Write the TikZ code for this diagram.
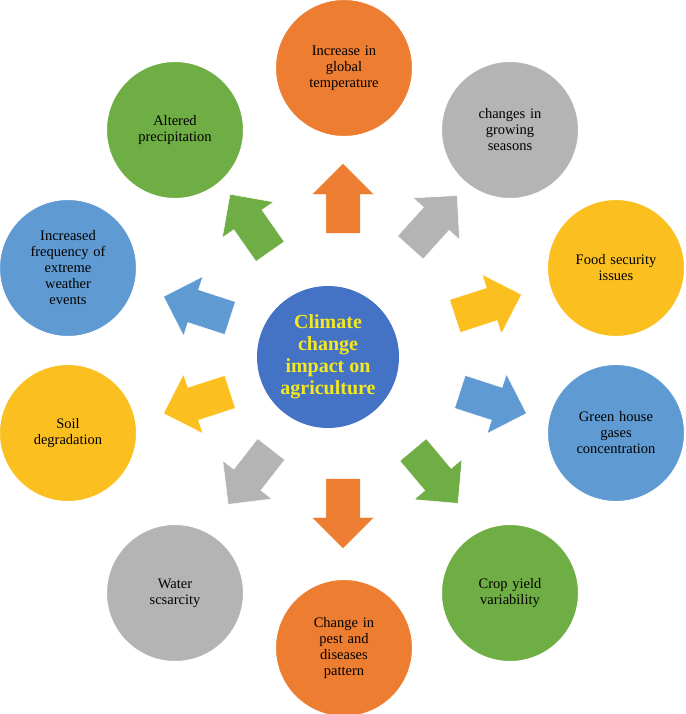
\documentclass[tikz,border=0pt]{standalone}
\usepackage{fontspec}
\setmainfont{Liberation Serif}
\usetikzlibrary{shapes.arrows}
\definecolor{cor}{HTML}{ED7D31}
\definecolor{cgr}{HTML}{B4B4B4}
\definecolor{cye}{HTML}{FBBF1F}
\definecolor{cbl}{HTML}{5F9BD2}
\definecolor{cgn}{HTML}{6FAE45}
\definecolor{cce}{HTML}{4472C4}
\definecolor{ctx}{HTML}{F5E81E}
\tikzset{
 outc/.style={circle,minimum size=137pt,inner sep=0pt,align=center,font=\fontsize{14.5}{16}\selectfont,text width=104pt,draw=white,line width=1pt},
 arr/.style={single arrow,minimum height=70pt,inner xsep=0pt,inner ysep=17pt,single arrow head extend=14pt,single arrow head indent=0pt,draw=white,line width=0.5pt}
}
\begin{document}
\begin{tikzpicture}[x=1pt,y=1pt]
\useasboundingbox (0,0) rectangle (685,714);
\node[circle,fill=cce,minimum size=142pt,inner sep=0pt,align=center,text=ctx,font=\bfseries\fontsize{20}{22}\selectfont] (c) at (328,357) {Climate\\change\\impact on\\agriculture};
\node[outc,fill=cor] (n1) at (344,646) {Increase in\\global\\temperature};
\node[outc,fill=cgr] (n2) at (510,584) {changes in\\growing\\seasons};
\node[outc,fill=cye] (n3) at (616,446) {Food security\\issues};
\node[outc,fill=cbl] (n4) at (616,281) {Green house\\gases\\concentration};
\node[outc,fill=cgn] (n5) at (510,121) {Crop yield\\variability};
\node[outc,fill=cor] (n6) at (344,66) {Change in\\pest and\\diseases\\pattern};
\node[outc,fill=cgr] (n7) at (175,121) {Water\\scsarcity};
\node[outc,fill=cye] (n8) at (68,281) {Soil\\degradation};
\node[outc,fill=cbl] (n9) at (68,446) {Increased\\frequency of\\extreme\\weather\\events};
\node[outc,fill=cgn] (n10) at (175,584) {Altered\\precipitation};
\node[arr,fill=cor,rotate=90] (a1) at (343,507) {};
\node[arr,fill=cgr,rotate=48] (a2) at (428,486) {};
\node[arr,fill=cye,rotate=18] (a3) at (480,406) {};
\node[arr,fill=cbl,rotate=-18] (a4) at (485,314) {};
\node[arr,fill=cgn,rotate=-50] (a5) at (430,244) {};
\node[arr,fill=cor,rotate=-90] (a6) at (343,209) {};
\node[arr,fill=cgr,rotate=-128] (a7) at (255,244) {};
\node[arr,fill=cye,rotate=-162] (a8) at (205,314) {};
\node[arr,fill=cbl,rotate=162] (a9) at (205,404) {};
\node[arr,fill=cgn,rotate=125] (a10) at (255,484) {};
\end{tikzpicture}
\end{document}
